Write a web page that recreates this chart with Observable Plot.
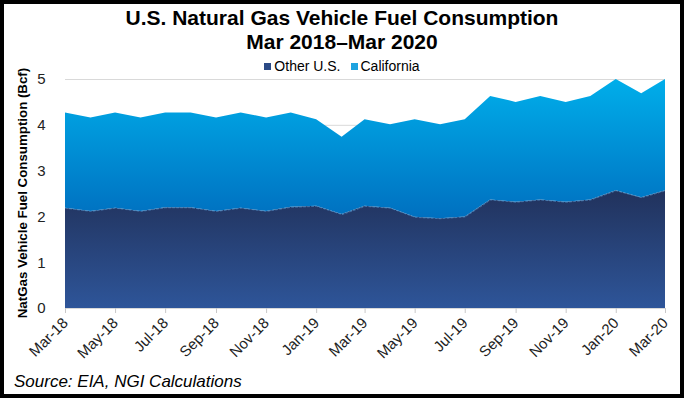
<!DOCTYPE html>
<html>
<head>
<meta charset="utf-8">
<script src="https://cdn.jsdelivr.net/npm/d3@7"></script>
<script src="https://cdn.jsdelivr.net/npm/@observablehq/plot@0.6"></script>
<style>
  html, body { margin: 0; padding: 0; background: #fff; }
  body { width: 684px; height: 398px; position: relative; overflow: hidden; font-family: "Liberation Sans", Arial, sans-serif; }
  .abs { position: absolute; }
  #title { left: 0; width: 684px; top: 6px; text-align: center; font-weight: bold; font-size: 21px; line-height: 24px; color: #000; }
  #legend { left: 0; width: 684px; top: 58px; text-align: center; font-size: 14px; line-height: 17px; color: #000; z-index: 2; }
  #legend span.sw { display: inline-block; width: 7px; height: 7px; margin-right: 3px; vertical-align: 1px; }
  #legend span.item { margin: 0 5px; }
  #ylabel { left: 22px; top: 193px; transform: translate(-50%, -50%) rotate(-90deg); white-space: nowrap; font-weight: bold; font-size: 13.3px; color: #000; }
  #source { left: 14px; top: 372px; font-style: italic; font-size: 17px; color: #000; }
  #chart { left: 0; top: 62px; }
  #frame { left: 0; top: 0; width: 684px; height: 398px; box-sizing: border-box; border: 4px solid #000; pointer-events: none; }
</style>
</head>
<body>
<div id="title" class="abs">U.S. Natural Gas Vehicle Fuel Consumption<br>Mar 2018–Mar 2020</div>
<div id="chart" class="abs"></div>
<div id="legend" class="abs"></div>
<div id="ylabel" class="abs">NatGas Vehicle Fuel Consumption (Bcf)</div>
<div id="source" class="abs">Source: EIA, NGI Calculations</div>
<div id="frame" class="abs"></div>
<script>
// ---- Data ----
const months = [
  "2018-03","2018-04","2018-05","2018-06","2018-07","2018-08","2018-09","2018-10","2018-11","2018-12",
  "2019-01","2019-02","2019-03","2019-04","2019-05","2019-06","2019-07","2019-08","2019-09","2019-10",
  "2019-11","2019-12","2020-01","2020-02","2020-03"
];
const otherUS = [2.19,2.12,2.19,2.12,2.20,2.20,2.12,2.19,2.12,2.21,2.23,2.05,2.23,2.19,1.99,1.96,2.00,2.37,2.32,2.37,2.32,2.37,2.57,2.42,2.57];
const california = [2.08,2.04,2.08,2.04,2.07,2.07,2.04,2.08,2.04,2.06,1.89,1.69,1.89,1.82,2.13,2.05,2.12,2.26,2.18,2.26,2.18,2.26,2.43,2.27,2.43];
const seriesNames = ["Other U.S.", "California"];
const seriesColors = ["url(#gOther)", "url(#gCal)"];
const legendColors = ["#2b4a86", "#1ea3e0"];
const yTicks = [0, 1, 2, 3, 4, 5];
const xTickLabels = ["Mar-18","May-18","Jul-18","Sep-18","Nov-18","Jan-19","Mar-19","May-19","Jul-19","Sep-19","Nov-19","Jan-20","Mar-20"];

// ---- Build table ----
const parse = d3.utcParse("%Y-%m");
const dates = months.map(parse);
const rows = [];
dates.forEach((d, i) => {
  rows.push({date: d, series: seriesNames[0], value: otherUS[i]});
  rows.push({date: d, series: seriesNames[1], value: california[i]});
});
const xTicks = dates.filter((d, i) => i % 2 === 0);

// legend
const legend = document.getElementById("legend");
seriesNames.forEach((s, i) => {
  const it = document.createElement("span");
  it.className = "item";
  it.innerHTML = `<span class="sw" style="background:${legendColors[i]}"></span>${s}`;
  legend.appendChild(it);
});

const chart = Plot.plot({
  width: 684,
  height: 310,
  marginLeft: 65,
  marginRight: 19,
  marginTop: 17,
  marginBottom: 64,
  style: {fontFamily: "'Liberation Sans', Arial, sans-serif", background: "transparent"},
  x: {type: "utc", domain: [dates[0], dates[dates.length - 1]]},
  y: {domain: [0, 5]},
  color: {domain: seriesNames, range: seriesColors},
  marks: [
    Plot.gridY(yTicks.filter(d => d > 0), {stroke: "#d9d9d9", strokeOpacity: 1, strokeWidth: 1}),
    Plot.areaY(rows, Plot.stackY({x: "date", y: "value", z: "series", fill: "series", order: seriesNames})),
    Plot.lineY(dates, {x: d => d, y: (d, i) => otherUS[i], stroke: "#5aa0dc", strokeWidth: 0.8, strokeDasharray: "2,2", strokeOpacity: 0.7}),
    Plot.ruleY([0], {stroke: "#d9d9d9"}),
    Plot.axisY(yTicks, {tickSize: 0, tickPadding: 20, fontSize: 15, fill: "#222", label: null}),
    Plot.axisX(xTicks, {tickSize: 5, stroke: "#c8c8c8", tickRotate: -45, tickPadding: 7, tickFormat: (d, i) => xTickLabels[i], fontSize: 15, fill: "#222", label: null})
  ]
});

const defs = d3.select(chart).insert("defs", ":first-child");
const g1 = defs.append("linearGradient").attr("id", "gOther").attr("x1", 0).attr("y1", 0).attr("x2", 0).attr("y2", 1);
g1.append("stop").attr("offset", "0%").attr("stop-color", "#21325c");
g1.append("stop").attr("offset", "100%").attr("stop-color", "#2e5599");
const g2 = defs.append("linearGradient").attr("id", "gCal").attr("x1", 0).attr("y1", 0).attr("x2", 0).attr("y2", 1);
g2.append("stop").attr("offset", "0%").attr("stop-color", "#00aeea");
g2.append("stop").attr("offset", "100%").attr("stop-color", "#0070c0");

document.getElementById("chart").appendChild(chart);
</script>
</body>
</html>
